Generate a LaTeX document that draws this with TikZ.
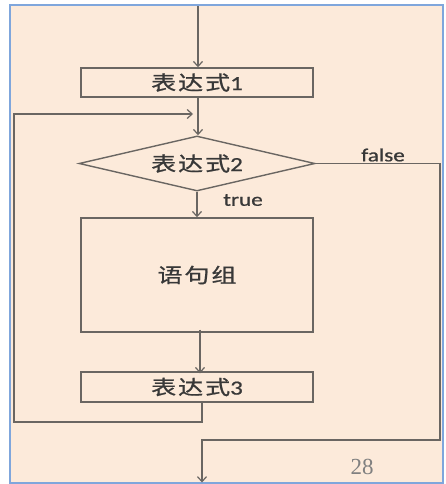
\documentclass[tikz,border=0pt]{standalone}
\usepackage{fontspec}
\usetikzlibrary{shapes.geometric,arrows.meta}
\newfontfamily\cjk[LetterSpace=8,FakeBold=0.8]{Noto Sans CJK SC}
\newfontfamily\lat[FakeBold=0.8]{Carlito}
\newfontfamily\serifnum{Liberation Serif}
\definecolor{bgpeach}{HTML}{FCEADA}
\definecolor{frameblue}{HTML}{7FA6DC}
\definecolor{linegrey}{HTML}{6A6662}
\definecolor{textgrey}{HTML}{383838}
\newcommand{\cj}[1]{\scalebox{1.25}[1]{\cjk #1}}
\newcommand{\lt}[1]{\scalebox{1.25}[1]{\lat #1}}
\tikzset{
  flow/.style={draw=linegrey, line width=1.4pt},
  arr/.style={flow, -{Straight Barb[length=5pt,width=9pt,line width=1.2pt]}},
  procbox/.style={draw=linegrey, line width=1.4pt, rectangle, inner sep=0pt,
    minimum width=232pt, text=textgrey, font=\fontsize{20}{22}\selectfont},
  decbox/.style={draw=linegrey, line width=1.4pt, diamond, inner sep=0pt, aspect=4.3,
    minimum width=236pt, minimum height=55pt, text=textgrey, font=\fontsize{20}{22}\selectfont},
  lbl/.style={text=textgrey, font=\fontsize{18.5}{20}\selectfont, inner sep=0pt}
}
\begin{document}
\begin{tikzpicture}[x=1pt,y=-1pt]
\useasboundingbox (0,0) rectangle (446,484);
\fill[white] (0,0) rectangle (446,484);
\draw[fill=bgpeach, draw=frameblue, line width=2pt] (9.5,5.5) rectangle (443,483);

\node[procbox, minimum height=29pt] (b1) at (197,82.5) {\cj{表达式}\lt{1}};
\node[decbox] (d) at (197,163.5) {\cj{表达式}\lt{2}};
\node[procbox, minimum height=114pt] (b2) at (197,275) {\cj{语句组}};
\node[procbox, minimum height=30pt] (b3) at (197,387) {\cj{表达式}\lt{3}};

\coordinate (top) at (198,6.5);
\coordinate (lb) at (14,422);
\coordinate (lt) at (14,114);
\coordinate (le) at (193,114);
\coordinate (fr) at (440,163.5);
\coordinate (fb) at (440,440);
\coordinate (ex) at (202,440);
\coordinate (end) at (202,482.5);

\draw[arr] (top) -- (top |- b1.north);
\draw[arr] (b1.south -| 198,0) -- (d.north -| 198,0);
\draw[arr] (d.south) -- (b2.north);
\draw[arr] ([yshift=3pt]b2.south -| 200,0) -- ([yshift=-2pt]b3.north -| 200,0);
\draw[arr] (b3.south -| 202,0) -- (202,422) -- (lb) -- (lt) -- (le);
\draw[arr] (d.east) -- (fr) -- (fb) -- (ex) -- (end);

\node[lbl] (tl) at (243,200) {\lt{true}};
\node[lbl] (fl) at (383,155) {\lt{false}};
\node[text=gray, font=\fontsize{23}{25}\selectfont\serifnum, inner sep=0pt] (pg) at (362,467) {28};
\end{tikzpicture}
\end{document}
